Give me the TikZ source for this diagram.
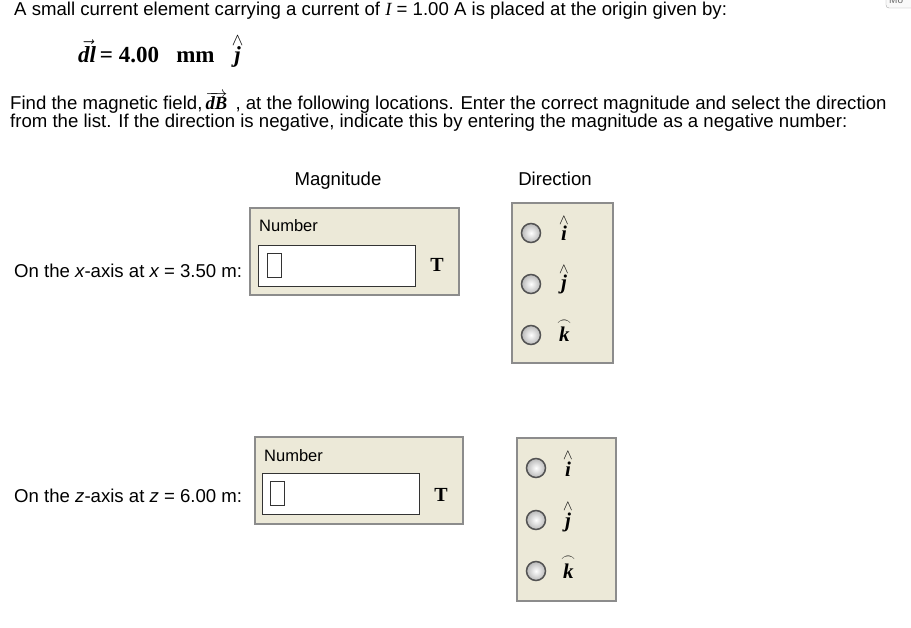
\documentclass[tikz,border=0pt]{standalone}
\usepackage{fontspec}
\setmainfont{Liberation Sans}
\newfontfamily\serifbi[BoldItalicFont={* Bold Italic}]{Liberation Serif}
\newcommand{\sbi}[1]{{\serifbi\bfseries\itshape #1}}
\newcommand{\unitvec}[1]{$\stackrel{\scriptstyle\wedge}{\hbox{\sbi{#1}}}$}
\newcommand{\unitvecw}[1]{$\stackrel{\frown}{\hbox{\sbi{#1}}}$}
\definecolor{panel}{HTML}{ECE9D8}
\definecolor{panelborder}{HTML}{8C8C8C}
\tikzset{
  txt/.style={anchor=base west, inner sep=0pt, font=\fontsize{18.6}{20}\selectfont},
  lbl/.style={anchor=base, inner sep=0pt, font=\fontsize{18.6}{20}\selectfont},
  small/.style={anchor=base west, inner sep=0pt, font=\fontsize{16.5}{18}\selectfont},
  panelbox/.style={fill=panel, draw=panelborder, line width=2.5pt},
  inputbox/.style={fill=white, draw=black!80, line width=0.8pt},
  cursorbox/.style={fill=white, draw=black!80, line width=0.8pt},
  radio/.style={circle, minimum size=19pt, inner sep=0pt, draw=gray!65!black, line width=1.5pt, inner color=white, outer color=gray!55},
  unit/.style={anchor=base, inner sep=0pt, font=\fontsize{20}{22}\selectfont\serifbi\bfseries},
  vecl/.style={anchor=base west, inner sep=0pt, font=\fontsize{23}{25}\selectfont},
  dirl/.style={anchor=base west, inner sep=0pt, font=\fontsize{21}{23}\selectfont}
}
\begin{document}
\begin{tikzpicture}[x=1pt,y=-1pt]
\useasboundingbox[fill=white] (0,0) rectangle (911,628);
% top-right partial button
\draw[draw=gray!70, rounded corners=3pt, fill=gray!5] (886,-10) rectangle (915,8);
\node[txt, font=\fontsize{10}{10}\selectfont, text=gray!80!black] (mo) at (889,4) {Mo};
% heading
\node[txt] (l1) at (14,16) {A small current element carrying a current of {\serifbi\itshape I} = 1.00 A is placed at the origin given by:};
\node[vecl] (eq) at (78,63) {$\vec{\hbox{\sbi{dl}}}$\,{\serifbi\bfseries{}= 4.00\ \ \ mm\ \ \ }\unitvec{j}};
\node[txt] (p1) at (10,110) {Find the magnetic field,\,$\overrightarrow{\hbox{\sbi{dB}}}$\ \,, at the following locations. Enter the correct magnitude and select the direction};
\node[txt] (p2) at (10,128) {from the list. If the direction is negative, indicate this by entering the magnitude as a negative number:};
% column heads
\node[lbl] (hm) at (338,186) {Magnitude};
\node[lbl] (hd) at (555,186) {Direction};
% row 1
\node[txt] (r1) at (14,278) {On the {\itshape x}-axis at {\itshape x} = 3.50 m:};
\draw[panelbox] (250,208) rectangle (459,295);
\node[small] (n1) at (259,232) {Number};
\draw[inputbox] (258,245) rectangle (415,286);
\draw[cursorbox] (267,253) rectangle (281,277);
\node[unit] (t1) at (437,272) {T};
\draw[panelbox] (512,203) rectangle (613,363);
\node[radio] (a1) at (531,233) {};
\node[radio] (b1) at (531,284) {};
\node[radio] (c1) at (531,335) {};
\node[dirl] (ai1) at (559,241) {\unitvec{i}};
\node[dirl] (bj1) at (559,290) {\unitvec{j}};
\node[dirl] (ck1) at (557,342) {\unitvecw{k}};
% row 2
\node[txt] (r2) at (14,502) {On the {\itshape z}-axis at {\itshape z} = 6.00 m:};
\draw[panelbox] (255,437) rectangle (463,524);
\node[small] (n2) at (264,461) {Number};
\draw[inputbox] (262,473) rectangle (419,514);
\draw[cursorbox] (270,481) rectangle (284,505);
\node[unit] (t2) at (441,501) {T};
\draw[panelbox] (517,438) rectangle (616,601);
\node[radio] (a2) at (536,468) {};
\node[radio] (b2) at (536,520) {};
\node[radio] (c2) at (536,571) {};
\node[dirl] (ai2) at (563,476) {\unitvec{i}};
\node[dirl] (bj2) at (563,527) {\unitvec{j}};
\node[dirl] (ck2) at (561,578) {\unitvecw{k}};
\end{tikzpicture}
\end{document}
